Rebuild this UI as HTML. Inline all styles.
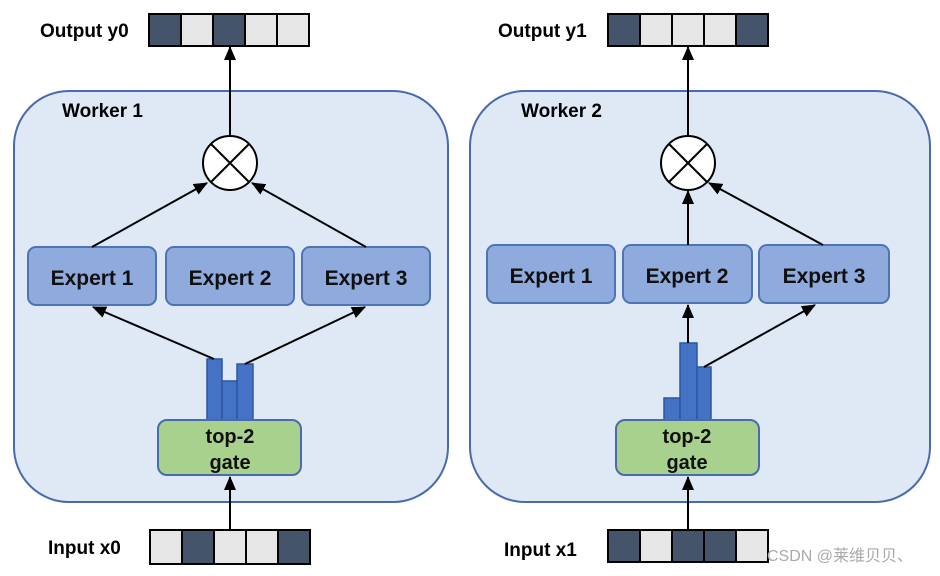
<!DOCTYPE html><html><head><style>body{margin:0;background:#fff}svg{display:block}text{font-family:"Liberation Sans",sans-serif;font-weight:bold}</style></head><body>
<svg width="940" height="576" viewBox="0 0 940 576">
<defs><marker id="a" markerWidth="14" markerHeight="12" refX="13" refY="6" orient="auto" markerUnits="userSpaceOnUse"><path d="M0,0 L14,6 L0,12 z" fill="#000"/></marker></defs>
<g stroke="#4a6aae" stroke-width="2" fill="#dfe9f5">
<rect x="14" y="91" width="434" height="411" rx="55"/>
<rect x="470" y="91" width="460" height="411" rx="55"/>
</g>
<g stroke="#000" stroke-width="2">
<g fill="#44546a"><rect x="149" y="14" width="32" height="32"/><rect x="213" y="14" width="32" height="32"/>
<rect x="182" y="530" width="32" height="34"/><rect x="278" y="530" width="32" height="34"/>
<rect x="608" y="14" width="32" height="32"/><rect x="736" y="14" width="32" height="32"/>
<rect x="608" y="530" width="32" height="32"/><rect x="672" y="530" width="32" height="32"/><rect x="704" y="530" width="32" height="32"/></g>
<g fill="#e7e6e6"><rect x="181" y="14" width="32" height="32"/><rect x="245" y="14" width="32" height="32"/><rect x="277" y="14" width="32" height="32"/>
<rect x="150" y="530" width="32" height="34"/><rect x="214" y="530" width="32" height="34"/><rect x="246" y="530" width="32" height="34"/>
<rect x="640" y="14" width="32" height="32"/><rect x="672" y="14" width="32" height="32"/><rect x="704" y="14" width="32" height="32"/>
<rect x="640" y="530" width="32" height="32"/><rect x="736" y="530" width="32" height="32"/></g>
</g>
<g font-size="19" fill="#000">
<text x="40" y="37">Output y0</text><text x="498" y="37">Output y1</text>
<text x="62" y="117">Worker 1</text><text x="521" y="117">Worker 2</text>
<text x="48" y="554">Input x0</text><text x="504" y="556">Input x1</text>
</g>
<g fill="#8faadc" stroke="#4f73b5" stroke-width="2">
<rect x="28" y="247" width="128" height="58" rx="8"/><rect x="166" y="247" width="128" height="58" rx="8"/><rect x="302" y="247" width="128" height="58" rx="8"/>
<rect x="487" y="245" width="128" height="58" rx="8"/><rect x="623" y="245" width="129" height="58" rx="8"/><rect x="759" y="245" width="130" height="58" rx="8"/>
</g>
<g font-size="21" fill="#111" text-anchor="middle" style="font-weight:normal">
<text x="92" y="285">Expert 1</text><text x="230" y="285">Expert 2</text><text x="366" y="285">Expert 3</text>
<text x="551" y="283">Expert 1</text><text x="687" y="283">Expert 2</text><text x="824" y="283">Expert 3</text>
</g>
<g fill="#4472c4" stroke="#2f55a0" stroke-width="1.5">
<rect x="207" y="359" width="15" height="61"/><rect x="222" y="381" width="15" height="39"/><rect x="237" y="364" width="16" height="56"/>
<rect x="664" y="398" width="16" height="22"/><rect x="680" y="343" width="17" height="77"/><rect x="697" y="367" width="14" height="53"/>
</g>
<g fill="#a9d18e" stroke="#4a6aae" stroke-width="2">
<rect x="158" y="420" width="143" height="55" rx="9"/><rect x="616" y="420" width="143" height="55" rx="9"/>
</g>
<g font-size="20" fill="#111" text-anchor="middle">
<text x="230" y="443">top-2</text><text x="230" y="469">gate</text>
<text x="687" y="443">top-2</text><text x="687" y="469">gate</text>
</g>
<g stroke="#000" stroke-width="2" fill="none" marker-end="url(#a)">
<line x1="230" y1="136" x2="230" y2="47"/><line x1="688" y1="136" x2="688" y2="47"/>
<line x1="92" y1="247" x2="207" y2="183"/><line x1="366" y1="247" x2="252" y2="183"/>
<line x1="823" y1="245" x2="709" y2="183"/><line x1="688" y1="245" x2="688" y2="191"/>
<line x1="214" y1="359" x2="93" y2="307"/><line x1="245" y1="364" x2="365" y2="307"/>
<line x1="688" y1="343" x2="688" y2="305"/><line x1="704" y1="367" x2="815" y2="305"/>
<line x1="230" y1="530" x2="230" y2="477"/><line x1="688" y1="530" x2="688" y2="477"/>
</g>
<g stroke="#000" stroke-width="2" fill="#fff">
<circle cx="230" cy="163" r="27"/><circle cx="688" cy="163" r="27"/>
<path d="M211,144 L249,182 M249,144 L211,182 M669,144 L707,182 M707,144 L669,182"/>
</g>
<text x="767" y="561" font-size="16" fill="#aaa" style="font-weight:normal;font-family:'Liberation Sans','Noto Sans CJK SC',sans-serif">CSDN @莱维贝贝、</text>
</svg></body></html>
